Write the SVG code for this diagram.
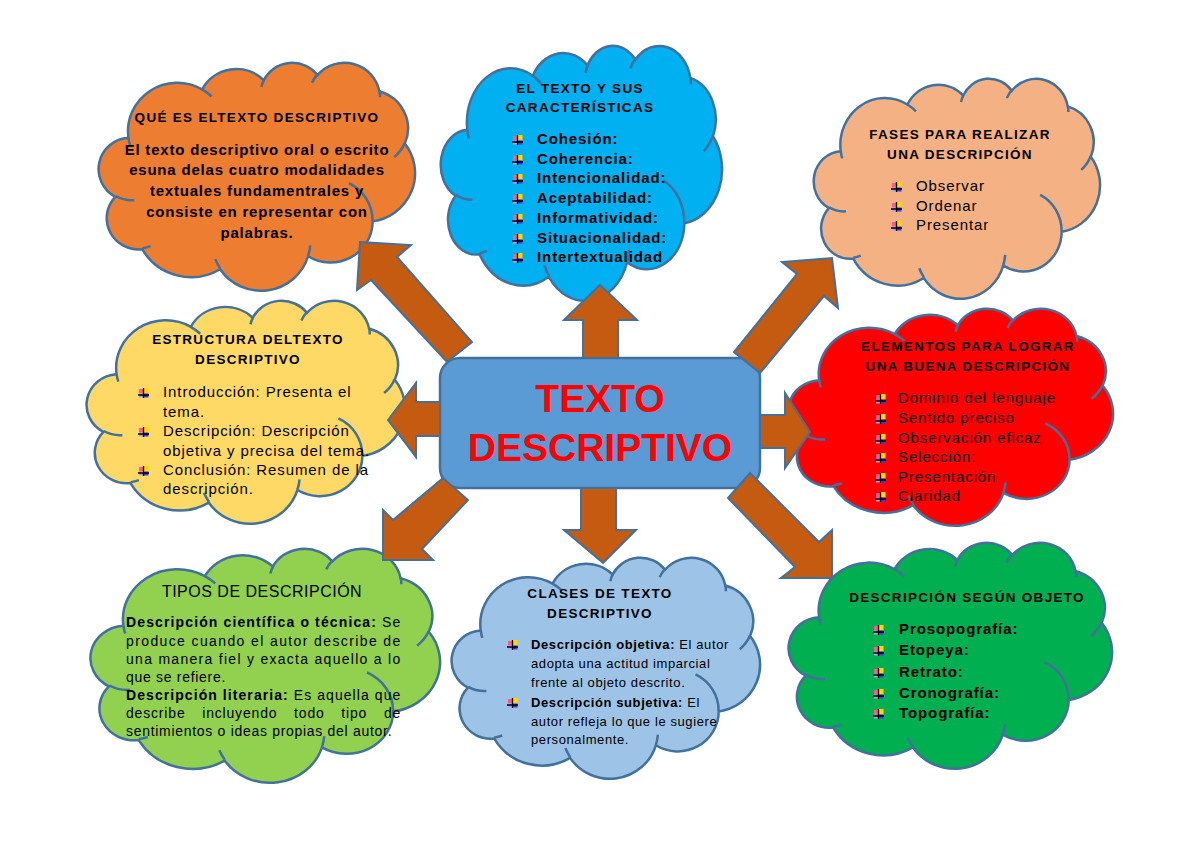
<svg xmlns="http://www.w3.org/2000/svg" xmlns:xlink="http://www.w3.org/1999/xlink" width="1200" height="849" viewBox="0 0 1200 849">
<style>
.cl{stroke:#41719C;stroke-width:2.5}
.cr{stroke:#41719C;stroke-width:2.5;fill:none}
.h{font-family:'Liberation Sans',Arial,sans-serif;font-weight:bold;font-size:13.5px;letter-spacing:1.3px;text-anchor:middle;fill:#000}
.bc{font-family:'Liberation Sans',Arial,sans-serif;font-weight:bold;font-size:15px;letter-spacing:0.8px;text-anchor:middle;fill:#000}
.b{font-family:'Liberation Sans',Arial,sans-serif;font-weight:bold;font-size:15px;letter-spacing:0.9px;fill:#000}
.r{font-family:'Liberation Sans',Arial,sans-serif;font-size:15px;letter-spacing:0.9px;fill:#000}
.p{font-family:'Liberation Sans',Arial,sans-serif;font-size:14px;letter-spacing:0.7px;fill:#000}
.s{font-family:'Liberation Sans',Arial,sans-serif;font-size:13px;letter-spacing:0.6px;fill:#000}
.arr{fill:#C55A11;stroke:#41719C;stroke-width:2;stroke-linejoin:miter}
.ctr{font-family:'Liberation Sans',Arial,sans-serif;font-size:39px;font-weight:bold;fill:#FF0000;text-anchor:middle}
</style>
<defs>
<path id="cloud" vector-effect="non-scaling-stroke" d="M9.03,33.26 A15.63,21.27 0 0 1 32.42,12.04 A12.34,16.82 0 0 1 51.98,7.95 A10.10,13.76 0 0 1 69.05,5.75 A11.24,15.27 0 0 1 88.68,12.90 A12.34,16.84 0 0 1 96.78,35.78 A15.68,21.34 0 0 1 86.56,69.90 A13.39,18.21 0 0 1 66.08,85.20 A15.63,21.33 0 0 1 38.13,90.88 A17.87,24.41 0 0 1 13.41,82.10 A10.09,13.70 0 0 1 4.86,59.13 A10.06,13.76 0 0 1 9.03,33.26 Z"/>
<path id="crease" fill="none" vector-effect="non-scaling-stroke" d="M10.86,60.60 A10.06,13.76 0 0 1 5.00,58.76 M16.04,80.78 A10.09,13.70 0 0 1 13.48,81.67 M38.14,90.49 A15.63,21.33 0 0 1 36.59,86.46 M66.73,80.44 A15.63,21.33 0 0 1 66.12,84.86 M79.00,53.13 A13.39,18.21 0 0 1 86.52,69.65 M96.75,35.54 A12.34,16.84 0 0 1 93.41,41.74 M88.71,12.56 A11.24,15.27 0 0 1 88.89,15.49 M67.31,9.15 A11.24,15.27 0 0 1 69.03,5.42 M51.25,10.93 A10.10,13.76 0 0 1 52.08,7.71 M32.41,12.02 A15.63,21.27 0 0 1 35.42,15.14 M9.55,36.55 A15.63,21.27 0 0 1 9.02,33.27"/>
<g id="bul">
<rect x="1" y="1" width="4.5" height="4.5" fill="#FF5A8A"/>
<rect x="5.5" y="0" width="5" height="5.5" fill="#FFD700"/>
<rect x="1" y="5.5" width="4.5" height="4" fill="#B59CFF"/>
<rect x="5.5" y="5.5" width="5" height="4" fill="#3A3AE0"/>
<path d="M5.5 0V10M0 7H11" stroke="#000" stroke-width="1.3"/>
</g>
</defs>

<g id="node-que-es">
<use href="#cloud" class="cl" fill="#ED7D31" transform="translate(100,62) scale(3.15,2.28)"/>
<use href="#crease" class="cr" transform="translate(100,62) scale(3.15,2.28)"/>
<text class="h" x="257" y="122">QUÉ ES ELTEXTO DESCRIPTIVO</text>
<text class="bc" x="257" y="155">El texto descriptivo oral o escrito</text>
<text class="bc" x="257" y="175">esuna delas cuatro modalidades</text>
<text class="bc" x="257" y="196">textuales fundamentrales y</text>
<text class="bc" x="257" y="217">consiste en representar con</text>
<text class="bc" x="257" y="238">palabras.</text>
</g>

<g id="node-caracteristicas">
<use href="#cloud" class="cl" fill="#00B0F0" transform="translate(442,45) scale(2.80,2.55)"/>
<use href="#crease" class="cr" transform="translate(442,45) scale(2.80,2.55)"/>
<text class="h" x="580" y="93">EL TEXTO Y SUS</text>
<text class="h" x="580" y="112">CARACTERÍSTICAS</text>
<use href="#bul" x="512" y="135"/><text class="b" x="537" y="144">Cohesión:</text>
<use href="#bul" x="512" y="155"/><text class="b" x="537" y="164">Coherencia:</text>
<use href="#bul" x="512" y="174"/><text class="b" x="537" y="183">Intencionalidad:</text>
<use href="#bul" x="512" y="194"/><text class="b" x="537" y="203">Aceptabilidad:</text>
<use href="#bul" x="512" y="214"/><text class="b" x="537" y="223">Informatividad:</text>
<use href="#bul" x="512" y="234"/><text class="b" x="537" y="243">Situacionalidad:</text>
<use href="#bul" x="512" y="253"/><text class="b" x="537" y="262">Intertextualidad</text>
</g>

<g id="node-fases">
<use href="#cloud" class="cl" fill="#F4B183" transform="translate(815,78) scale(2.85,2.20)"/>
<use href="#crease" class="cr" transform="translate(815,78) scale(2.85,2.20)"/>
<text class="h" x="960" y="139">FASES PARA REALIZAR</text>
<text class="h" x="960" y="159">UNA DESCRIPCIÓN</text>
<use href="#bul" x="891" y="182"/><text class="r" x="916" y="191">Observar</text>
<use href="#bul" x="891" y="202"/><text class="r" x="916" y="211">Ordenar</text>
<use href="#bul" x="891" y="221"/><text class="r" x="916" y="230">Presentar</text>
</g>

<g id="node-estructura">
<use href="#cloud" class="cl" fill="#FFD966" transform="translate(88,300) scale(3.17,2.23)"/>
<use href="#crease" class="cr" transform="translate(88,300) scale(3.17,2.23)"/>
<text class="h" x="248" y="344">ESTRUCTURA DELTEXTO</text>
<text class="h" x="248" y="364">DESCRIPTIVO</text>
<use href="#bul" x="138" y="388"/><text class="r" x="163" y="397">Introducción: Presenta el</text>
<text class="r" x="163" y="417">tema.</text>
<use href="#bul" x="138" y="427"/><text class="r" x="163" y="436">Descripción: Descripción</text>
<text class="r" x="163" y="456">objetiva y precisa del tema.</text>
<use href="#bul" x="138" y="466"/><text class="r" x="163" y="475">Conclusión: Resumen de la</text>
<text class="r" x="163" y="494">descripción.</text>
</g>

<g id="node-elementos">
<use href="#cloud" class="cl" fill="#FF0000" transform="translate(790,308) scale(3.23,2.17)"/>
<use href="#crease" class="cr" transform="translate(790,308) scale(3.23,2.17)"/>
<text class="h" x="968" y="351">ELEMENTOS PARA LOGRAR</text>
<text class="h" x="968" y="371">UNA BUENA DESCRIPCIÓN</text>
<use href="#bul" x="875" y="394"/><text class="r" x="898" y="403">Dominio del lenguaje</text>
<use href="#bul" x="875" y="414"/><text class="r" x="898" y="423">Sentido preciso</text>
<use href="#bul" x="875" y="434"/><text class="r" x="898" y="443">Observación eficaz</text>
<use href="#bul" x="875" y="453"/><text class="r" x="898" y="462">Selección:</text>
<use href="#bul" x="875" y="473"/><text class="r" x="898" y="482">Presentación</text>
<use href="#bul" x="875" y="492"/><text class="r" x="898" y="501">Claridad</text>
</g>

<g id="node-tipos">
<use href="#cloud" class="cl" fill="#92D050" transform="translate(92,548) scale(3.48,2.34)"/>
<use href="#crease" class="cr" transform="translate(92,548) scale(3.48,2.34)"/>
<text x="262" y="597" style="font-family:'Liberation Sans',Arial,sans-serif;font-size:16px;letter-spacing:0.5px;text-anchor:middle">TIPOS DE DESCRIPCIÓN</text>
<text class="p" x="126" y="627" textLength="275" lengthAdjust="spacing"><tspan font-weight="bold">Descripción científica o técnica:</tspan> Se</text>
<text class="p" x="126" y="646" textLength="275" lengthAdjust="spacing">produce cuando el autor describe de</text>
<text class="p" x="126" y="664" textLength="275" lengthAdjust="spacing">una manera fiel y exacta aquello a lo</text>
<text class="p" x="126" y="682">que se refiere.</text>
<text class="p" x="126" y="700" textLength="275" lengthAdjust="spacing"><tspan font-weight="bold">Descripción literaria:</tspan> Es aquella que</text>
<text class="p" x="126" y="718" textLength="275" lengthAdjust="spacing" word-spacing="12">describe incluyendo todo tipo de</text>
<text class="p" x="126" y="736">sentimientos o ideas propias del autor.</text>
</g>

<g id="node-clases">
<use href="#cloud" class="cl" fill="#9DC3E6" transform="translate(453,557) scale(3.07,2.21)"/>
<use href="#crease" class="cr" transform="translate(453,557) scale(3.07,2.21)"/>
<text class="h" x="600" y="598">CLASES DE TEXTO</text>
<text class="h" x="600" y="618">DESCRIPTIVO</text>
<use href="#bul" x="507" y="640"/><text class="s" x="531" y="649"><tspan font-weight="bold">Descripción objetiva:</tspan> El autor</text>
<text class="s" x="531" y="668">adopta una actitud imparcial</text>
<text class="s" x="531" y="687">frente al objeto descrito.</text>
<use href="#bul" x="507" y="698"/><text class="s" x="531" y="707"><tspan font-weight="bold">Descripción subjetiva:</tspan> El</text>
<text class="s" x="531" y="726">autor refleja lo que le sugiere</text>
<text class="s" x="531" y="744">personalmente.</text>
</g>

<g id="node-objeto">
<use href="#cloud" class="cl" fill="#00B050" transform="translate(790,542) scale(3.22,2.26)"/>
<use href="#crease" class="cr" transform="translate(790,542) scale(3.22,2.26)"/>
<text class="h" x="967" y="602">DESCRIPCIÓN SEGÚN OBJETO</text>
<use href="#bul" x="873" y="625"/><text class="b" x="899" y="634">Prosopografía:</text>
<use href="#bul" x="873" y="646"/><text class="b" x="899" y="655">Etopeya:</text>
<use href="#bul" x="873" y="668"/><text class="b" x="899" y="677">Retrato:</text>
<use href="#bul" x="873" y="689"/><text class="b" x="899" y="698">Cronografía:</text>
<use href="#bul" x="873" y="709"/><text class="b" x="899" y="718">Topografía:</text>
</g>

<g id="node-centro">
<rect x="440" y="358" width="320" height="130" rx="20" fill="#5B9BD5" stroke="#41719C" stroke-width="2.5"/>
<text class="ctr" x="600" y="412">TEXTO</text>
<text class="ctr" x="600" y="461">DESCRIPTIVO</text>
</g>

<g id="connectors">
<polygon class="arr" points="360,242 411,245 397,257 472,342 447,362 371,280 357,290"/>
<polygon class="arr" points="600,285 637,320 618,320 618,358 583,358 583,320 564,320"/>
<polygon class="arr" points="832,258 838,308 824,296 760,373 734,352 797,274 782,262"/>
<polygon class="arr" points="388,420 416,383 416,402 440,402 440,436 416,436 416,457"/>
<polygon class="arr" points="810,432 785,468 785,448 760,448 760,415 785,415 785,393"/>
<polygon class="arr" points="383,560 383,510 393,520 443,478 468,500 422,549 433,560"/>
<polygon class="arr" points="603,563 636,530 616,530 616,488 581,488 581,530 564,530"/>
<polygon class="arr" points="832,578 781,578 795,567 728,498 750,473 819,542 832,530"/>
</g>
</svg>
